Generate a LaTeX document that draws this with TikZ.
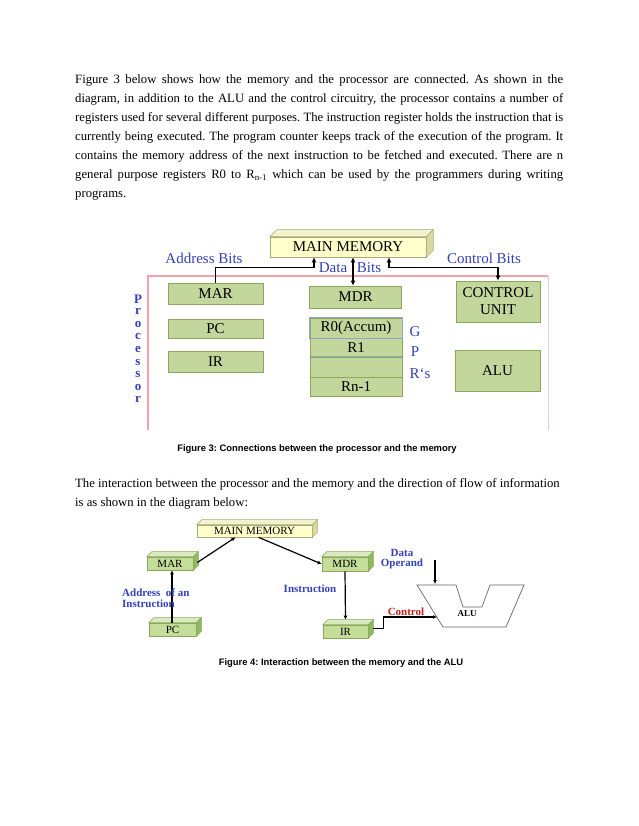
\documentclass[tikz,border=0pt]{standalone}
\usepackage{fontspec}
\setmainfont{Liberation Serif}
\newfontfamily\capfont{Liberation Sans}
\usetikzlibrary{arrows.meta}
\definecolor{gfill}{HTML}{C3D69B}
\definecolor{gdraw}{HTML}{8AA858}
\definecolor{gfour}{HTML}{C4DE9A}
\definecolor{gside}{HTML}{8FB860}
\definecolor{gtop}{HTML}{D8EBC0}
\definecolor{yfill}{HTML}{FFFFCC}
\definecolor{ytop}{HTML}{F2F2CC}
\definecolor{yside}{HTML}{D8D8A0}
\definecolor{ydraw}{HTML}{A8A878}
\definecolor{lblue}{HTML}{3440B8}
\definecolor{framec}{HTML}{F2A2AA}
\definecolor{ctrl}{HTML}{CC2020}
\definecolor{rblue}{HTML}{8EA8C8}
\frenchspacing
\newcommand\jl[1]{\makebox[488pt][s]{#1}}
\begin{document}
\begin{tikzpicture}[x=1pt,y=-1pt,
  jline/.style={anchor=base west, inner sep=0pt, font=\fontsize{12.7}{15}\selectfont},
  pline/.style={anchor=base west, inner sep=0pt, font=\fontsize{12.7}{15}\selectfont},
  gbox/.style={draw=gdraw, fill=gfill, line width=0.8pt, inner sep=0pt, font=\fontsize{15}{17}\selectfont},
  memthree/.style={draw=ydraw, fill=yfill, line width=0.6pt, inner sep=0pt, font=\fontsize{15}{17}\selectfont},
  blab/.style={text=lblue, inner sep=0pt, font=\fontsize{15}{17}\selectfont},
  plab/.style={text=lblue, inner sep=0pt, font=\fontsize{13}{14}\selectfont\bfseries},
  capt/.style={inner sep=0pt, font=\capfont\bfseries\fontsize{9.4}{11}\selectfont},
  arr/.style={line width=1.6pt, -{Latex[length=5pt,width=5pt]}},
  darr/.style={line width=1.6pt, {Latex[length=5pt,width=5pt]}-{Latex[length=5pt,width=5pt]}},
  frm/.style={draw=framec, line width=1.2pt},
  gfbox/.style={draw=gdraw, fill=gfour, line width=0.6pt, inner sep=0pt, font=\fontsize{11}{13}\selectfont},
  mfbox/.style={draw=ydraw, fill=yfill, line width=0.6pt, inner sep=0pt, font=\fontsize{11}{13}\selectfont},
  bflab/.style={text=lblue, inner sep=0pt, font=\fontsize{11}{13}\selectfont\bfseries},
  arrf/.style={line width=1.2pt, -{Latex[length=4pt,width=4pt]}}
]
\useasboundingbox (0,0) rectangle (638,826);
\fill[white] (0,0) rectangle (638,826);

% ---------- paragraph 1 ----------
\node[jline] (p1) at (75,84) {\jl{Figure 3 below shows how the memory and the processor are connected. As shown in the}};
\node[jline] (p2) at (75,103) {\jl{diagram, in addition to the ALU and the control circuitry, the processor contains a number of}};
\node[jline] (p3) at (75,122) {\jl{registers used for several different purposes. The instruction register holds the instruction that is}};
\node[jline] (p4) at (75,141) {\jl{currently being executed. The program counter keeps track of the execution of the program. It}};
\node[jline] (p5) at (75,160) {\jl{contains the memory address of the next instruction to be fetched and executed. There are n}};
\node[jline] (p6) at (75,179) {\jl{general purpose registers R0 to R\textsubscript{n-1} which can be used by the programmers during writing}};
\node[pline] (p7) at (75,198) {programs.};

% ---------- figure 3 ----------
\draw[frm] (148,430) -- (148,276) -- (548,276);
\draw[draw=framec!60, line width=0.8pt] (548,276) -- (548,430);

\node[memthree, minimum width=156pt, minimum height=20pt] (mmt) at (348,247) {MAIN MEMORY};

\node[gbox, minimum width=95pt, minimum height=21pt] (mar) at (215.5,293.5) {MAR};
\node[gbox, minimum width=95pt, minimum height=19pt] (pc) at (215.5,328.5) {PC};
\node[gbox, minimum width=95pt, minimum height=21pt] (ir) at (215.5,361.5) {IR};
\node[gbox, minimum width=92pt, minimum height=22pt] (mdr) at (355.5,297) {MDR};
\node[gbox, minimum width=84pt, minimum height=41pt, align=center, font=\fontsize{15}{17}\selectfont] (cu) at (498,301.5) {CONTROL\\UNIT};
\node[gbox, minimum width=85pt, minimum height=41pt] (alut) at (497.5,370.5) {ALU};

\node[gbox, minimum width=92pt, minimum height=20pt] (rz) at (356,328) {R0(Accum)};
\node[gbox, minimum width=92pt, minimum height=19pt] (ro) at (356,347.5) {R1};
\node[gbox, minimum width=92pt, minimum height=20pt] (rb) at (356,367) {};
\node[gbox, minimum width=92pt, minimum height=19pt] (rn) at (356,386.5) {Rn-1};
\draw[rblue, line width=0.9pt] (rz.north west) rectangle (rz.south east);
\draw[rblue, line width=0.9pt] (rb.north west) -- (rb.north east);

\node[blab] (gl) at (415,332) {G};
\node[blab] (pl) at (415,352) {P};
\node[blab] (rl) at (420,374) {R`s};

\foreach \ch [count=\i from 0] in {P,r,o,c,e,s,s,o,r}
  \node[plab] (proc\i) at (138,{299+12.6*\i}) {\ch};

\node[blab] (ab) at (204,258) {Address Bits};
\node[blab] (dba) at (333,268) {Data};
\node[blab] (dbb) at (369,268) {Bits};
\node[blab] (cb) at (484,258) {Control Bits};

\draw[arr] (mar.north) -- ++(0,-15) -| ([xshift=-34pt]mmt.south);
\draw[darr] ([xshift=5pt]mmt.south) -- ([xshift=5pt]mmt.south |- mdr.north);
\draw[darr] ([xshift=41pt]mmt.south) -- ++(0,10) -| (cu.north);

\node[capt] (capthree) at (317,449) {Figure 3: Connections between the processor and the memory};

% ---------- paragraph 2 ----------
\node[pline] (q1) at (75,487) {The interaction between the processor and the memory and the direction of flow of information};
\node[pline] (q2) at (75,506) {is as shown in the diagram below:};

% ---------- figure 4 ----------
\node[mfbox, minimum width=115pt, minimum height=12pt] (mmf) at (254.5,531) {MAIN MEMORY};
\node[gfbox, minimum width=46pt, minimum height=13pt] (marf) at (170,563.5) {MAR};
\node[gfbox, minimum width=47pt, minimum height=13pt] (pcf) at (172.5,629.5) {PC};
\node[gfbox, minimum width=46pt, minimum height=14pt] (mdrf) at (345,564) {MDR};
\node[gfbox, minimum width=45pt, minimum height=13pt] (irf) at (345.5,631.5) {IR};

\foreach \n/\d/\tc/\sc/\dc in {mmt/7/ytop/yside/ydraw, mmf/5/ytop/yside/ydraw, marf/5/gtop/gside/gdraw, pcf/5/gtop/gside/gdraw, mdrf/5/gtop/gside/gdraw, irf/5/gtop/gside/gdraw} {
  \filldraw[fill=\tc, draw=\dc, line width=0.5pt] (\n.north west) -- ++(\d,-\d) -- ([shift={(\d,-\d)}]\n.north east) -- (\n.north east) -- cycle;
  \filldraw[fill=\sc, draw=\dc, line width=0.5pt] (\n.north east) -- ([shift={(\d,-\d)}]\n.north east) -- ([shift={(\d,-\d)}]\n.south east) -- (\n.south east) -- cycle;
}

% ALU shape
\coordinate (aa) at (417,585);
\coordinate (ab2) at (456,585);
\coordinate (ac) at (463,607);
\coordinate (ad) at (482,607);
\coordinate (ae) at (490,585);
\coordinate (af) at (524,585);
\coordinate (ag) at (506,627);
\coordinate (ah) at (443,627);
\draw[draw=black!60, fill=white, line width=0.7pt] (aa) -- (ab2) -- (ac) -- (ad) -- (ae) -- (af) -- (ag) -- (ah) -- cycle;
\node[inner sep=0pt, font=\fontsize{9}{11}\selectfont\bfseries] (aluf) at (467,614) {ALU};

\coordinate (dtop) at (435,560);
\coordinate (dend) at (435,584);
\coordinate (cend) at (437,617);

\draw[arrf] ([xshift=4pt,yshift=1pt]marf.east) -- ([xshift=-19pt]mmf.south);
\draw[arrf] ([xshift=4pt]mmf.south) -- (mdrf.west);
\draw[arrf] (pcf.north -| marf.south) ++(2,0) -- ([xshift=2pt]marf.south);
\draw[arrf] (mdrf.south) -- ([yshift=5pt]irf.north);
\draw[arrf] ([xshift=5pt,yshift=3pt]irf.east) -- ++(10,0) |- (cend);
\draw[arrf] (dtop) -- (dend);

\node[bflab, anchor=west] (adda) at (122,593) {Address\ \ of an};
\node[bflab, anchor=west] (addb) at (122,604) {Instruction};
\node[bflab] (instr) at (310,589) {Instruction};
\node[bflab] (dta) at (402,553) {Data};
\node[bflab] (dtb) at (402,564) {Operand};
\node[inner sep=0pt, text=ctrl, font=\fontsize{11}{13}\selectfont\bfseries] (ctl) at (406,612) {Control};

\node[capt] (capfour) at (341,663) {Figure 4: Interaction between the memory and the ALU};
\end{tikzpicture}
\end{document}
